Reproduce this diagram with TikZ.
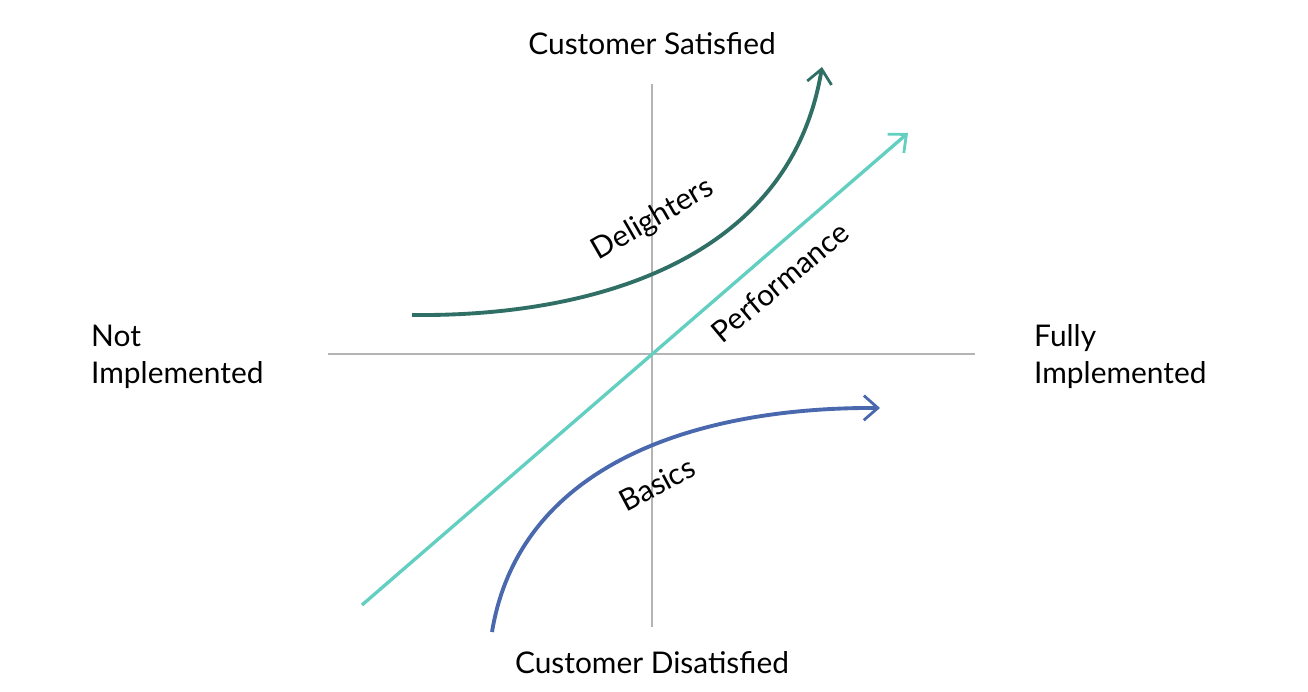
\documentclass[tikz,border=0pt]{standalone}
\usepackage{fontspec}
\setmainfont{Lato}
\usetikzlibrary{arrows.meta}
\definecolor{axisgray}{HTML}{B4B4B4}
\definecolor{perfteal}{HTML}{62CFC1}
\definecolor{delgreen}{HTML}{2F6F66}
\definecolor{basblue}{HTML}{4A68AD}
\tikzset{
	axis/.style={axisgray,line width=1.6pt},
	curve/.style={line width=2.2pt,-{Straight Barb[length=8pt,width=14pt,line width=1.6pt]}},
	lbl/.style={font=\fontsize{17}{21}\selectfont},
}
\begin{document}
\begin{tikzpicture}
	\useasboundingbox (0,0) rectangle (26.16,13.84);
	
	%axes
	\coordinate (xl) at (6.56,6.76);
	\coordinate (xr) at (19.5,6.76);
	\coordinate (yt) at (13.04,12.16);
	\coordinate (yb) at (13.04,1.3);
	\draw[axis] (xl) -- (xr);
	\draw[axis] (yt) -- (yb);
	
	%curves
	\coordinate (ps) at (7.24,1.74);
	\coordinate (pe) at (18.16,11.18);
	\coordinate (ds) at (8.24,7.54);
	\coordinate (de) at (16.44,12.5);
	\coordinate (bs) at (9.84,1.2);
	\coordinate (be) at (17.6,5.68);
	\draw[curve,perfteal,line width=1.9pt] (ps) -- (pe);
	\draw[curve,delgreen] (ds) .. controls (11.8,7.5) and (15.8,8.6) .. (de);
	\draw[curve,basblue] (bs) .. controls (10.4,4.6) and (14,5.7) .. (be);
	
	\node[lbl,rotate=30] (del) at (13.06,9.45) {Delighters};
	\node[lbl,rotate=40] (perf) at (15.6,8.2) {Performance};
	\node[lbl,rotate=28] (bas) at (13.14,4.16) {Basics};
	
	\node[lbl] (sat) at (13.04,12.96) {Customer Satisfied};
	\node[lbl] (dis) at (13.04,0.58) {Customer Disatisfied};
	\node[lbl,anchor=west,align=left] (notimp) at (1.7,6.7) {Not\\Implemented};
	\node[lbl,anchor=west,align=left] (fullimp) at (20.56,6.7) {Fully\\Implemented};
\end{tikzpicture}
\end{document}
